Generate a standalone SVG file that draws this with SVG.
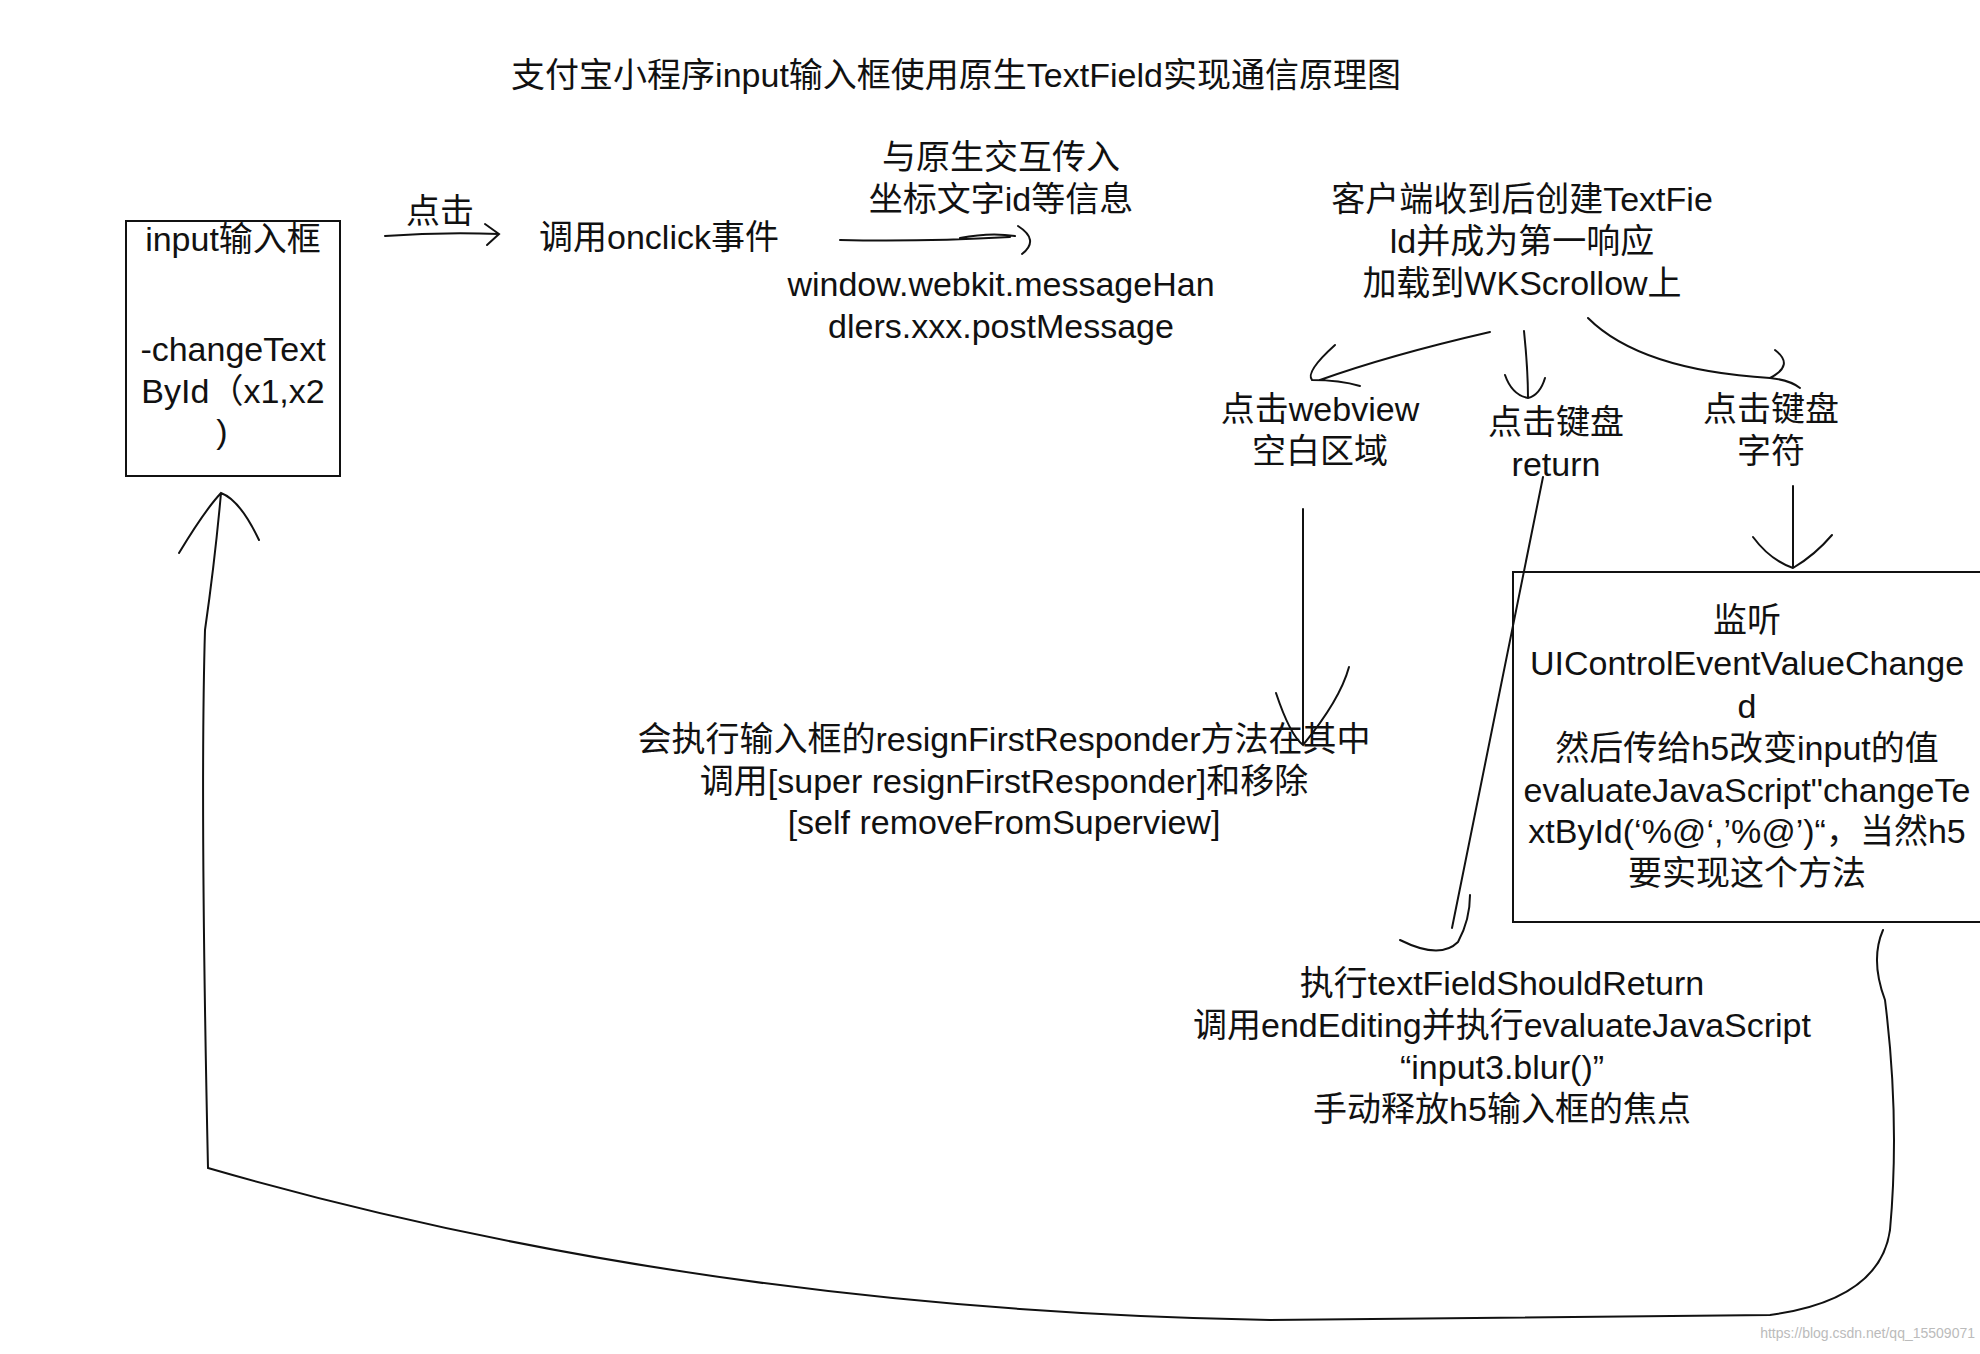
<svg xmlns="http://www.w3.org/2000/svg" width="1980" height="1354" viewBox="0 0 1980 1354">
<style>
text{font-family:"Liberation Sans","Noto Sans CJK SC",sans-serif;font-size:34px;fill:#111;text-anchor:middle}
.c path,.c line{fill:none;stroke:#111;stroke-width:2;stroke-linecap:round}
</style>
<rect width="1980" height="1354" fill="#fff"/>
<text x="956" y="87">支付宝小程序input输入框使用原生TextField实现通信原理图</text>
<g id="input-box">
<rect x="126" y="221" width="214" height="255" fill="none" stroke="#111" stroke-width="2"/>
<text x="233" y="251">input输入框</text>
<text x="233" y="361">-changeText</text>
<text x="233" y="403">ById（x1,x2</text>
<text x="222" y="443">)</text>
</g>
<g id="onclick"><text x="659" y="249">调用onclick事件</text></g>
<g id="click-label"><text x="440" y="223">点击</text></g>
<g id="interact"><text x="1001" y="169">与原生交互传入</text><text x="1001" y="211">坐标文字id等信息</text></g>
<g id="post"><text x="1001" y="296">window.webkit.messageHan</text><text x="1001" y="338">dlers.xxx.postMessage</text></g>
<g id="client"><text x="1522" y="211">客户端收到后创建TextFie</text><text x="1522" y="253">ld并成为第一响应</text><text x="1522" y="295">加载到WKScrollow上</text></g>
<g id="webview"><text x="1320" y="421">点击webview</text><text x="1320" y="463">空白区域</text></g>
<g id="return"><text x="1556" y="434">点击键盘</text><text x="1556" y="476">return</text></g>
<g id="char"><text x="1771" y="421">点击键盘</text><text x="1771" y="463">字符</text></g>
<g id="resign"><text x="1004" y="751">会执行输入框的resignFirstResponder方法在其中</text><text x="1004" y="793">调用[super resignFirstResponder]和移除</text><text x="1004" y="834">[self removeFromSuperview]</text></g>
<g id="listen">
<rect x="1513" y="572" width="480" height="350" fill="none" stroke="#111" stroke-width="2"/>
<text x="1747" y="632">监听</text><text x="1747" y="675">UIControlEventValueChange</text><text x="1747" y="718">d</text><text x="1747" y="760">然后传给h5改变input的值</text><text x="1747" y="802">evaluateJavaScript"changeTe</text><text x="1747" y="843">xtById(‘%@‘,’%@’)“，当然h5</text><text x="1747" y="885">要实现这个方法</text>
</g>
<g id="should-return"><text x="1502" y="995">执行textFieldShouldReturn</text><text x="1502" y="1037">调用endEditing并执行evaluateJavaScript</text><text x="1502" y="1079">“input3.blur()”</text><text x="1502" y="1121">手动释放h5输入框的焦点</text></g>
<g class="c" id="connectors">
<path d="M385 236 Q440 232 499 234 M485 224 L499 234 L487 245"/>
<path d="M840 240 Q920 242 1010 237 M960 238 Q990 232 1015 236 M1018 226 Q1040 240 1022 254"/>
<path d="M1490 332 Q1390 355 1320 380 M1335 345 Q1305 372 1312 380 Q1340 380 1360 386"/>
<path d="M1524 331 Q1528 370 1528 398 M1505 375 Q1512 395 1528 398 Q1540 395 1545 378"/>
<path d="M1588 318 Q1640 370 1770 378 Q1795 365 1775 350 M1770 378 Q1790 380 1800 388"/>
<path d="M1303 509 L1303 745 M1276 693 Q1290 735 1303 745 Q1340 700 1349 667"/>
<path d="M1543 477 L1452 928 M1400 940 Q1440 960 1458 942 Q1470 920 1470 895"/>
<path d="M1793 486 L1793 568 M1753 537 Q1770 560 1793 568 Q1815 555 1832 535"/>
<path d="M1883 930 Q1870 960 1885 1000 Q1900 1120 1890 1230 Q1880 1300 1770 1315 L1270 1320 Q700 1310 208 1168 Q200 800 205 630 Q215 560 221 493 M179 553 Q205 510 221 493 Q240 500 259 540"/>
</g>
<text x="1975" y="1338" style="font-size:14px;fill:#bbb;text-anchor:end">https://blog.csdn.net/qq_15509071</text>
</svg>
